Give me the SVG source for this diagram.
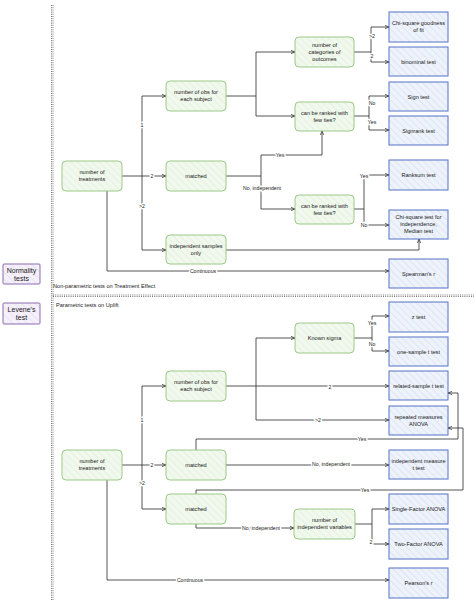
<svg xmlns="http://www.w3.org/2000/svg" width="474" height="606" viewBox="0 0 474 606">
<defs>
<pattern id="hg" width="5" height="5" patternUnits="userSpaceOnUse" patternTransform="rotate(-45)">
<rect width="5" height="5" fill="#f1f8ed"/><line x1="0" y1="0" x2="0" y2="5" stroke="#dcecd3" stroke-width="1"/>
</pattern>
<pattern id="hb" width="5" height="5" patternUnits="userSpaceOnUse" patternTransform="rotate(-45)">
<rect width="5" height="5" fill="#eef2fb"/><line x1="0" y1="0" x2="0" y2="5" stroke="#cfdaf2" stroke-width="1"/>
</pattern>
<pattern id="hp" width="5" height="5" patternUnits="userSpaceOnUse" patternTransform="rotate(-45)">
<rect width="5" height="5" fill="#f5f0fa"/><line x1="0" y1="0" x2="0" y2="5" stroke="#e2d6ee" stroke-width="1"/>
</pattern>
<marker id="ar" viewBox="0 0 6 6" refX="6" refY="3" markerWidth="5" markerHeight="5" orient="auto">
<path d="M0,0.5 L6,3 L0,5.5" fill="none" stroke="#222" stroke-width="1"/>
</marker>
</defs>
<style>
text{font-family:"Liberation Sans",Arial,sans-serif;fill:#1a1a1a;text-anchor:middle}
.g{fill:url(#hg);stroke:#9cc985;stroke-width:1}
.b{fill:url(#hb);stroke:#5572c4;stroke-width:1}
.p{fill:url(#hp);stroke:#8b6db0;stroke-width:1}
.n{font-size:5.6px}
.pt{font-size:7px}
.c path{fill:none;stroke:#2a2a2a;stroke-width:0.8}
.c .a{marker-end:url(#ar)}
.l{font-size:5.2px;stroke:#fff;stroke-width:2.5px;paint-order:stroke}
.cap{font-size:5.6px;text-anchor:start}
.dot{stroke:#555;stroke-width:0.8;stroke-dasharray:1 1.2;fill:none}
</style>
<rect width="474" height="606" fill="#fff"/>
<path class="dot" d="M51.5,5 V600 M53,5 V600"/>
<path class="dot" d="M53,295 H474 M53,296.5 H474"/>
<text class="cap" x="53" y="288">Non-parametric tests on Treatment Effect</text>
<text class="cap" x="56" y="307">Parametric tests on Uplift</text>

<g id="normality"><rect class="p" x="3" y="264" width="37" height="20" rx="1"/><text class="pt" x="21.5" y="272.5">Normality</text><text class="pt" x="21.5" y="280.5">tests</text></g>
<g id="levene"><rect class="p" x="3" y="303" width="37" height="21" rx="1"/><text class="pt" x="21.5" y="312">Levene's</text><text class="pt" x="21.5" y="320">test</text></g>

<g class="c" id="connectors">
<path class="a" d="M122,176 H166"/>
<path class="a" d="M142,176 V96 H166"/>
<path class="a" d="M142,176 V250 H166"/>
<path class="a" d="M107,191 V271 H389"/>
<path class="a" d="M226,250 H419 V239"/>
<path d="M226,176 H261 M261,155 V209"/>
<path class="a" d="M261,155 H322 V131"/>
<path class="a" d="M261,209 H295"/>
<path d="M354,209 H364 M364,175 V225"/>
<path class="a" d="M364,175 H389"/>
<path class="a" d="M364,225 H389"/>
<path d="M226,96 H256 M256,52 V116"/>
<path class="a" d="M256,52 H295"/>
<path class="a" d="M256,116 H295"/>
<path d="M354,52 H371 M371,27 V62"/>
<path class="a" d="M371,27 H389"/>
<path class="a" d="M371,62 H389"/>
<path d="M354,116 H369 M369,96 V130"/>
<path class="a" d="M369,96 H389"/>
<path class="a" d="M369,130 H389"/>

<path class="a" d="M122,465 H166"/>
<path class="a" d="M142,465 V386 H166"/>
<path class="a" d="M142,465 V509 H166"/>
<path class="a" d="M107,480 V580 H389"/>
<path class="a" d="M226,386 H389"/>
<path d="M256,386 V338"/>
<path class="a" d="M256,338 H295"/>
<path class="a" d="M256,386 V420 H389"/>
<path d="M354,338 H372 M372,316 V351"/>
<path class="a" d="M372,316 H389"/>
<path class="a" d="M372,351 H389"/>
<path class="a" d="M226,465 H389"/>
<path class="a" d="M196,450 V439 H458 V393 H448"/>
<path class="a" d="M196,494 V490 H463 V428 H448"/>
<path class="a" d="M196,524 V528 H294"/>
<path d="M355,524 H372 M372,509 V544"/>
<path class="a" d="M372,509 H389"/>
<path class="a" d="M372,544 H389"/>

<text class="l" x="152" y="178">2</text>
<text class="l" x="142" y="127">1</text>
<text class="l" x="142" y="208">&gt;2</text>
<text class="l" x="203" y="273">Continuous</text>
<text class="l" x="280" y="157">Yes</text>
<text class="l" x="262" y="190">No, independent</text>
<text class="l" x="364" y="178">Yes</text>
<text class="l" x="364" y="227">No</text>
<text class="l" x="372" y="38">&gt;2</text>
<text class="l" x="372" y="58">2</text>
<text class="l" x="372" y="105">No</text>
<text class="l" x="372" y="124">Yes</text>

<text class="l" x="152" y="467">2</text>
<text class="l" x="142" y="422">1</text>
<text class="l" x="142" y="485">&gt;2</text>
<text class="l" x="190" y="582">Continuous</text>
<text class="l" x="330" y="389">2</text>
<text class="l" x="318" y="422">&gt;2</text>
<text class="l" x="372" y="325">Yes</text>
<text class="l" x="372" y="346">No</text>
<text class="l" x="331" y="466">No, independent</text>
<text class="l" x="362" y="441">Yes</text>
<text class="l" x="365" y="492">Yes</text>
<text class="l" x="261" y="530">No, independent</text>
<text class="l" x="371" y="544">2</text>
</g>

<g id="t_treat"><rect class="g" x="62" y="161" width="60" height="30" rx="4"/><text class="n" x="92" y="174">number of</text><text class="n" x="92" y="181">treatments</text></g>
<g id="t_obs"><rect class="g" x="166" y="81" width="60" height="30" rx="4"/><text class="n" x="196" y="94">number of obs for</text><text class="n" x="196" y="101">each subject</text></g>
<g id="t_matched"><rect class="g" x="166" y="161" width="60" height="30" rx="4"/><text class="n" x="196" y="178">matched</text></g>
<g id="t_indep"><rect class="g" x="166" y="235" width="60" height="29" rx="4"/><text class="n" x="196" y="247.5">independent samples</text><text class="n" x="196" y="254.5">only</text></g>
<g id="t_cat"><rect class="g" x="295" y="37" width="59" height="30" rx="4"/><text class="n" x="324.5" y="46.5">number of</text><text class="n" x="324.5" y="53.5">categories of</text><text class="n" x="324.5" y="60.5">outcomes</text></g>
<g id="t_rank1"><rect class="g" x="295" y="102" width="59" height="29" rx="4"/><text class="n" x="324.5" y="114.5">can be ranked with</text><text class="n" x="324.5" y="121.5">few ties?</text></g>
<g id="t_rank2"><rect class="g" x="295" y="195" width="59" height="29" rx="4"/><text class="n" x="324.5" y="207.5">can be ranked with</text><text class="n" x="324.5" y="214.5">few ties?</text></g>

<g id="r_chigof"><rect class="b" x="389" y="12" width="59" height="30"/><text class="n" x="418.5" y="25">Chi-square goodness</text><text class="n" x="418.5" y="32">of fit</text></g>
<g id="r_binom"><rect class="b" x="389" y="47" width="59" height="29"/><text class="n" x="418.5" y="63.5">binominal test</text></g>
<g id="r_sign"><rect class="b" x="389" y="82" width="59" height="29"/><text class="n" x="418.5" y="98.5">Sign test</text></g>
<g id="r_signrank"><rect class="b" x="389" y="116" width="59" height="29"/><text class="n" x="418.5" y="132.5">Signrank test</text></g>
<g id="r_ranksum"><rect class="b" x="389" y="160" width="59" height="30"/><text class="n" x="418.5" y="177">Ranksum test</text></g>
<g id="r_chiind"><rect class="b" x="389" y="210" width="59" height="29"/><text class="n" x="418.5" y="219">Chi-square test for</text><text class="n" x="418.5" y="226">independence,</text><text class="n" x="418.5" y="233">Median test</text></g>
<g id="r_spear"><rect class="b" x="389" y="259" width="59" height="29"/><text class="n" x="418.5" y="275.5">Spearman's r</text></g>

<g id="b_treat"><rect class="g" x="62" y="450" width="60" height="30" rx="4"/><text class="n" x="92" y="463">number of</text><text class="n" x="92" y="470">treatments</text></g>
<g id="b_obs"><rect class="g" x="166" y="371" width="60" height="30" rx="4"/><text class="n" x="196" y="384">number of obs for</text><text class="n" x="196" y="391">each subject</text></g>
<g id="b_matched1"><rect class="g" x="166" y="450" width="60" height="30" rx="4"/><text class="n" x="196" y="467">matched</text></g>
<g id="b_matched2"><rect class="g" x="166" y="494" width="60" height="30" rx="4"/><text class="n" x="196" y="511">matched</text></g>
<g id="b_sigma"><rect class="g" x="295" y="323" width="59" height="30" rx="4"/><text class="n" x="324.5" y="340">Known sigma</text></g>
<g id="b_nvars"><rect class="g" x="294" y="509" width="61" height="30" rx="4"/><text class="n" x="324.5" y="522">number of</text><text class="n" x="324.5" y="529">independent variables</text></g>

<g id="r_z"><rect class="b" x="389" y="302" width="59" height="30"/><text class="n" x="418.5" y="319">z test</text></g>
<g id="r_onet"><rect class="b" x="389" y="337" width="59" height="29"/><text class="n" x="418.5" y="353.5">one-sample t test</text></g>
<g id="r_relt"><rect class="b" x="389" y="371" width="59" height="29"/><text class="n" x="418.5" y="387.5">related-sample t test</text></g>
<g id="r_rm"><rect class="b" x="389" y="406" width="59" height="29"/><text class="n" x="418.5" y="418.5">repeated measures</text><text class="n" x="418.5" y="425.5">ANOVA</text></g>
<g id="r_indt"><rect class="b" x="389" y="450" width="59" height="29"/><text class="n" x="418.5" y="462.5">independent measure</text><text class="n" x="418.5" y="469.5">t test</text></g>
<g id="r_sfa"><rect class="b" x="389" y="494" width="59" height="30"/><text class="n" x="418.5" y="511">Single-Factor ANOVA</text></g>
<g id="r_tfa"><rect class="b" x="389" y="529" width="59" height="30"/><text class="n" x="418.5" y="546">Two-Factor ANOVA</text></g>
<g id="r_pear"><rect class="b" x="389" y="568" width="59" height="30"/><text class="n" x="418.5" y="585">Pearson's r</text></g>
</svg>
